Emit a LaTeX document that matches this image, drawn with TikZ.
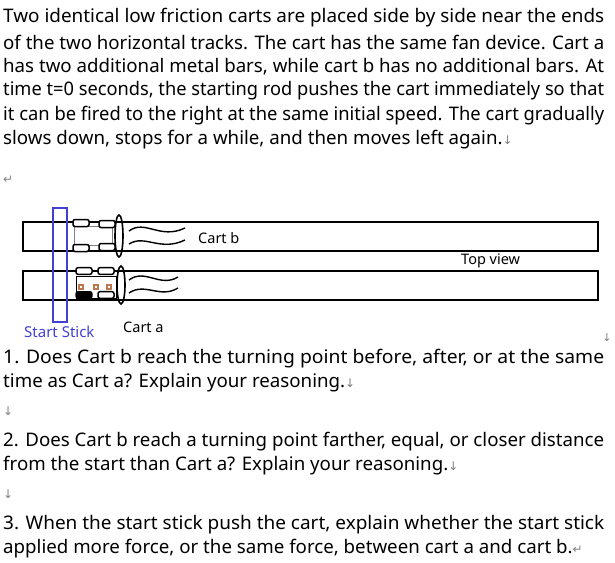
\documentclass[tikz,border=0pt]{standalone}
\usepackage{fontspec}
\usepackage{graphicx}
\setmainfont{Noto Sans}
\newfontfamily\symf{DejaVu Sans}
\newcommand{\fw}[1]{\resizebox{601pt}{\height}{#1}}
\begin{document}
\begin{tikzpicture}[x=1pt,y=-1pt,
 txt/.style={anchor=west,inner sep=0pt,font=\fontsize{18.7}{22}\selectfont},
 mk/.style={text=gray,font=\symf\fontsize{11}{12}\selectfont},
 trk/.style={draw,line width=1.6pt},
 whl/.style={draw,line width=1.5pt,rounded corners=2pt,fill=white},
 fan/.style={draw,line width=1.6pt},
 wav/.style={line width=1.4pt}]
\useasboundingbox (0,0) rectangle (615,562);
\newcommand{\qm}{{\symf\color{gray}\fontsize{12}{12}\selectfont ↓}}
\newcommand{\rt}{{\symf\color{gray}\fontsize{12}{12}\selectfont ↵}}
\node[txt] (l1) at (3,18) {\fw{Two identical low friction carts are placed side by side near the ends}};
\node[txt] (l2) at (3,42) {\fw{of the two horizontal tracks. The cart has the same fan device. Cart a}};
\node[txt] (l3) at (3,67) {\fw{has two additional metal bars, while cart b has no additional bars. At}};
\node[txt] (l4) at (3,91) {\fw{time t=0 seconds, the starting rod pushes the cart immediately so that}};
\node[txt] (l5) at (3,116) {\fw{it can be fired to the right at the same initial speed. The cart gradually}};
\node[txt] (l6) at (3,140) {slows down, stops for a while, and then moves left again.\qm};
\node[txt] (l7) at (3,180) {\rt};
% tracks
\draw[trk] (23,222) rectangle (598,251);
\draw[trk] (23,271) rectangle (598,300);
% cart b
\draw[gray,line width=1pt] (74,226) rectangle (112,245);
\node[whl,minimum width=16pt,minimum height=7pt] (wb1) at (81,223) {};
\node[whl,minimum width=16pt,minimum height=7pt] (wb2) at (81,248) {};
\node[whl,minimum width=16pt,minimum height=7pt] (wb3) at (107,224) {};
\node[whl,minimum width=16pt,minimum height=7pt] (wb4) at (107,247) {};
\draw[fan] (119,236) ellipse (4 and 21);
\draw[wav] (129,231) .. controls (145,219) and (160,240) .. (185,228);
\draw[wav] (129,244) .. controls (145,234) and (160,252) .. (185,240);
\node[anchor=west,inner sep=0pt,font=\fontsize{14.5}{16}\selectfont] (cb) at (198,238) {Cart b};
% cart a
\draw[line width=1pt] (76,276) rectangle (116,298);
\node[whl,minimum width=16pt,minimum height=6pt] (wa1) at (84,271) {};
\node[whl,minimum width=16pt,minimum height=6pt] (wa2) at (106,271) {};
\node[whl,minimum width=16pt,minimum height=6pt] (wa4) at (106,295) {};
\node[draw,fill=black,rounded corners=2pt,minimum width=16pt,minimum height=6pt,line width=1.2pt] (wa3) at (84,295) {};
\foreach \i/\xx in {s1/81,s2/96,s3/109}{
 \node[fill={rgb,255:red,190;green,120;blue,80},minimum size=6pt,inner sep=0pt] (\i) at (\xx,287) {};
 \fill[white] (\xx-1,286) rectangle (\xx+1,288);}
\draw[fan] (121,285) ellipse (4 and 19);
\draw[wav] (129,280) .. controls (145,268) and (160,288) .. (178,277);
\draw[wav] (129,293) .. controls (145,282) and (160,299) .. (178,288);
\node[anchor=west,inner sep=0pt,font=\fontsize{14.5}{16}\selectfont] (ca) at (123,327) {Cart a};
% stick
\draw[draw={rgb,255:red,64;green,64;blue,210},line width=2pt] (53,208) rectangle (67,322);
\node[anchor=west,inner sep=0pt,text={rgb,255:red,64;green,64;blue,210},font=\fontsize{15}{16}\selectfont] (st) at (24,332) {Start Stick};
\node[anchor=west,inner sep=0pt,font=\fontsize{14.5}{16}\selectfont] (tv) at (461,261) {Top view};
\node[mk] (a1) at (607,338) {↓};
% questions
\node[txt] (q1) at (3,359) {\fw{1. Does Cart b reach the turning point before, after, or at the same}};
\node[txt] (q1b) at (3,383) {time as Cart a? Explain your reasoning.\qm};
\node[txt] (q1c) at (3,411) {\qm};
\node[txt] (q2) at (3,442) {\fw{2. Does Cart b reach a turning point farther, equal, or closer distance}};
\node[txt] (q2b) at (3,466) {from the start than Cart a? Explain your reasoning.\qm};
\node[txt] (q2c) at (3,494) {\qm};
\node[txt] (q3) at (3,525) {\fw{3. When the start stick push the cart, explain whether the start stick}};
\node[txt] (q3b) at (3,549) {applied more force, or the same force, between cart a and cart b.\rt};
\end{tikzpicture}
\end{document}
